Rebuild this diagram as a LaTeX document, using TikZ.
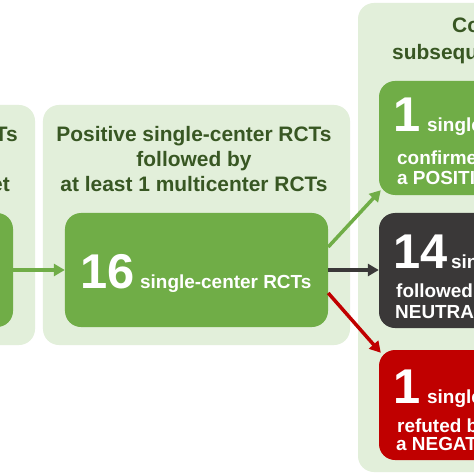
\documentclass[tikz,border=0pt]{standalone}
\usepackage{fontspec}
\setmainfont{Liberation Sans}
\usetikzlibrary{arrows.meta,positioning}
\definecolor{panelbg}{HTML}{E2EFDA}
\definecolor{leaf}{HTML}{70AD47}
\definecolor{moss}{HTML}{385723}
\definecolor{coal}{HTML}{3A3838}
\definecolor{crimson}{HTML}{C00000}
\tikzset{
  panel/.style={fill=panelbg,rounded corners=16bp,inner sep=0pt},
  rctbox/.style={rounded corners=16bp,inner sep=0pt,minimum height=114bp},
  paneltitle/.style={font=\fontsize{21}{25}\selectfont\bfseries,text=moss,inner sep=0pt,anchor=base},
  bignum/.style={font=\fontsize{49}{49}\selectfont\bfseries,text=white,inner sep=0pt,anchor=base west},
  boxtext/.style={font=\fontsize{19}{21}\selectfont\bfseries,text=white,inner sep=0pt,anchor=base west},
  flow/.style={-{Triangle[length=11bp,width=12bp]},line width=3.5bp},
}
\begin{document}
\begin{tikzpicture}[x=1bp,y=-1bp]
 \useasboundingbox (0,0) rectangle (474,474);
 \clip (0,0) rectangle (474,474);
 \fill[white] (0,0) rectangle (474,474);
 % panels
 \node[panel,minimum width=307bp,minimum height=240bp] (leftpanel) at (-118.5,225) {};
 \node[panel,minimum width=307bp,minimum height=240bp] (midpanel) at (196.5,225) {};
 \node[panel,minimum width=342bp,minimum height=469bp] (rightpanel) at (529,237.5) {};
 % boxes
 \node[rctbox,fill=leaf,minimum width=263bp] (leftbox) at (-118.5,270) {};
 \node[rctbox,fill=leaf,minimum width=263bp] (midbox) at (196.5,270) {};
 \node[rctbox,fill=leaf,minimum width=300bp] (posbox) at (529,138) {};
 \node[rctbox,fill=coal,minimum width=300bp,minimum height=115bp] (neubox) at (529,270.5) {};
 \node[rctbox,fill=crimson,minimum width=300bp,minimum height=110bp] (negbox) at (529,405) {};
 % panel titles
 \node[paneltitle,anchor=base east] (lefttitle1) at (18,142) {Positive single-center RCTs};
 \node[paneltitle,anchor=base east] (lefttitle3) at (10,192) {in the dataset};
 \foreach \t [count=\i] in {Positive single-center RCTs,followed by,at least 1 multicenter RCTs}
   \node[paneltitle] (midtitle\i) at (194,117+25*\i) {\t};
 \node[paneltitle,anchor=base west] (righttitle1) at (452,33) {Conclusion of};
 \node[paneltitle,anchor=base west] (righttitle2) at (392,60) {subsequent multicenter RCTs};
 % box texts
 \node[bignum] (midnum) at (80,288) {16};
 \node[boxtext] (midtext) at (140,288) {single-center RCTs};
 \node[bignum] (posnum) at (393,132) {1};
 \node[boxtext] (postext1) at (427,132) {single-center RCT};
 \node[boxtext] (postext2) at (397,165) {confirmed by};
 \node[boxtext] (postext3) at (397,185) {a POSITIVE multicenter RCT};
 \node[bignum] (neunum) at (393,268) {14};
 \node[boxtext] (neutext1) at (451,268) {single-center RCTs};
 \node[boxtext] (neutext2) at (396,297) {followed by};
 \node[boxtext] (neutext3) at (395,318) {NEUTRAL multicenter RCTs};
 \node[bignum] (negnum) at (393,403) {1};
 \node[boxtext] (negtext1) at (427,403) {single-center RCT};
 \node[boxtext] (negtext2) at (397,432) {refuted by};
 \node[boxtext] (negtext3) at (396,450) {a NEGATIVE multicenter RCT};
 % arrows
 \draw[flow,leaf] (leftbox.east) -- (midbox.west);
 \draw[flow,leaf] ([yshift=23bp]midbox.east) -- ([xshift=2bp,yshift=5bp]posbox.south west);
 \draw[flow,coal] (midbox.east) -- (midbox.east -| neubox.west);
 \draw[flow,crimson] ([yshift=-23bp]midbox.east) -- ([xshift=2bp,yshift=-3bp]negbox.north west);
\end{tikzpicture}
\end{document}
